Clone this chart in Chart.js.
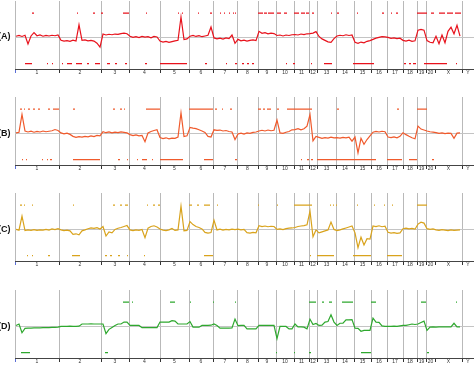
<!DOCTYPE html>
<html lang="en">
<head>
<meta charset="UTF-8">
<title>Copy number profiles</title>
<script src="https://cdn.jsdelivr.net/npm/chart.js@4.4.1/dist/chart.umd.min.js"></script>
<style>
  html, body { margin: 0; padding: 0; background: #fff; overflow: hidden; width: 474px; height: 366px; }
  .panel { position: absolute; left: 0; width: 474px; height: 96px; }
  .tag { position: absolute; left: -2px; font: bold 9px 'Liberation Sans', Arial, sans-serif; color: #111; }
</style>
</head>
<body>

<div class="panel" style="top:1px"><canvas id="cnA"></canvas></div>
<div class="panel" style="top:97px"><canvas id="cnB"></canvas></div>
<div class="panel" style="top:193px"><canvas id="cnC"></canvas></div>
<div class="panel" style="top:290px"><canvas id="cnD"></canvas></div>
<div class="tag" style="top:31px">(A)</div>
<div class="tag" style="top:128px">(B)</div>
<div class="tag" style="top:224px">(C)</div>
<div class="tag" style="top:321px">(D)</div>

<script>
// chromosome layout (genome position units along the x axis)
const chromNames = ['1','2','3','4','5','6','7','8','9','10','11','12','13','14','15','16','17','18','19','20','X','Y'];
const chromBounds = [0,44,86,114,145,174,198,222,243,261,279,294,302,321,339,356,372,388,402,411,420,447,459];

// probe positions shared by all four profiles
const probePos = [1,4,7,10,13,16,19,22,25,28,31,34,37,40,43,
  46,49,52,55,58,61,64,67,70,73,76,79,82,85,
  88,91,94,97,100,103,106,109,112,
  115,118,121,124,127,130,133,136,139,142,
  145,148,151,154,157,160,163,166,169,172,
  175,178,181,184,187,190,193,196,
  199,202,205,208,211,214,217,220,
  223,226,229,232,235,238,241,
  244,247,250,253,256,259,
  262,265,268,271,274,277,
  280,283,286,289,292,
  295,298,301,
  304,307,310,313,316,319,
  322,325,328,331,334,337,
  340,343,346,349,352,355,
  358,361,364,367,370,
  373,376,379,382,385,
  388,391,394,397,400,
  403,406,409,
  412,415,418,
  421,424,427,430,433,436,439,442,445];

// log ratio per probe
const cnA = [0.05,0.08,0.04,0.09,-0.27,0.06,0.2,0.07,0.1,0.05,0.08,0.06,0.09,0.07,0.1,
  -0.12,-0.15,-0.13,-0.16,-0.11,-0.15,0.52,-0.12,-0.1,-0.14,-0.12,-0.15,-0.24,-0.4,
  0.14,0.1,0.13,0.11,0.14,0.13,0.16,0.18,0.15,
  0.05,0.0,0.03,-0.01,0.04,0.01,0.03,-0.02,0.04,0.02,
  -0.15,-0.19,-0.16,-0.2,-0.17,-0.14,-0.12,0.84,-0.09,-0.06,
  0.05,0.08,0.04,0.07,0.03,0.06,0.09,0.43,
  -0.02,-0.06,-0.03,-0.07,-0.02,-0.05,0.1,-0.24,
  -0.08,-0.14,-0.11,-0.15,-0.12,-0.1,-0.13,
  0.25,0.17,0.2,0.15,0.18,0.16,
  0.08,0.1,0.06,0.1,0.08,0.11,
  0.12,0.1,0.14,0.12,0.15,
  0.16,0.18,0.24,
  0.04,-0.06,-0.12,-0.18,-0.2,-0.05,
  0.06,0.09,0.07,0.11,0.08,0.1,
  -0.2,-0.24,-0.19,-0.22,-0.16,-0.13,
  -0.08,-0.03,0.0,0.03,0.02,
  0.0,-0.04,-0.02,-0.05,-0.03,
  -0.12,-0.15,-0.11,-0.16,-0.14,
  0.3,0.33,0.3,
  -0.13,-0.2,-0.22,
  0.05,-0.26,0.1,-0.22,0.25,0.42,0.15,0.5,0.05];

const cnB = [0.02,0.05,0.78,0.1,0.06,0.09,0.05,0.08,0.06,0.1,0.07,0.09,0.11,0.16,0.12,
  0.02,-0.02,0.01,-0.04,-0.12,-0.16,-0.13,-0.15,-0.12,-0.14,-0.1,-0.13,-0.08,-0.1,
  0.07,0.03,0.06,0.02,0.05,0.03,0.06,0.04,0.02,
  -0.05,-0.09,-0.06,-0.1,-0.08,-0.34,0.02,0.08,0.12,0.15,
  -0.17,-0.21,-0.18,-0.22,-0.19,-0.2,-0.15,0.85,-0.13,-0.1,
  0.25,0.22,0.2,0.15,0.1,0.04,-0.12,-0.15,
  0.15,0.13,0.14,0.1,0.12,0.08,0.06,-0.25,
  -0.02,0.01,-0.03,0.02,0.0,0.04,0.06,
  0.1,0.13,0.1,0.14,0.11,0.13,
  0.55,0.02,0.0,0.05,0.08,0.15,
  0.16,0.2,0.15,0.19,0.3,
  0.78,-0.3,-0.12,
  -0.16,-0.2,-0.17,-0.19,-0.15,-0.18,
  -0.17,-0.19,-0.16,-0.18,-0.15,-0.32,
  -0.15,-0.8,-0.2,-0.45,-0.25,-0.1,
  0.05,0.08,0.06,0.09,0.07,
  -0.15,-0.17,-0.14,-0.18,-0.12,
  0.03,-0.05,-0.12,-0.18,-0.22,
  0.3,0.18,0.14,
  0.1,0.07,0.05,
  0.03,0.0,0.02,-0.01,0.01,0.0,-0.2,0.01,0.02];

const cnC = [0.0,-0.03,0.55,-0.05,-0.02,-0.04,-0.01,-0.04,-0.02,-0.03,0.0,-0.03,0.02,-0.01,0.03,
  -0.02,-0.05,-0.03,-0.06,-0.2,-0.18,-0.22,-0.06,-0.02,0.03,0.06,0.04,0.07,0.02,
  0.12,-0.27,-0.1,-0.14,0.0,0.05,0.08,0.12,0.16,
  -0.02,-0.05,-0.02,-0.04,0.0,-0.34,0.05,0.12,0.15,0.1,
  0.02,-0.03,-0.05,-0.02,0.04,-0.04,-0.02,0.96,-0.06,-0.04,
  0.32,0.2,0.12,0.08,0.02,-0.12,-0.15,-0.13,
  0.38,-0.02,0.01,-0.03,0.0,-0.02,0.01,-0.01,
  0.01,-0.02,0.0,-0.13,-0.15,-0.12,-0.14,
  0.15,0.12,0.14,0.11,0.13,0.12,
  0.0,0.02,-0.01,0.03,0.05,0.06,
  0.08,0.12,0.14,0.16,0.19,
  0.75,-0.3,-0.02,
  -0.14,-0.1,-0.06,-0.02,0.3,0.0,
  -0.05,-0.02,0.02,0.06,0.1,0.14,
  -0.14,-0.75,-0.32,-0.64,-0.38,-0.4,
  0.14,0.12,0.15,0.11,0.13,
  -0.12,-0.15,-0.13,-0.16,-0.14,
  0.03,0.05,0.02,0.04,0.01,
  0.22,0.3,0.26,
  0.03,0.0,0.02,
  -0.02,-0.04,-0.01,-0.03,-0.05,-0.02,-0.04,-0.03,-0.02];

const cnD = [0.04,0.1,-0.26,-0.08,-0.07,-0.07,-0.06,-0.06,-0.06,-0.05,-0.05,-0.05,-0.04,-0.04,-0.03,
  0.0,0.0,0.0,0.01,0.0,0.0,0.01,0.1,0.1,0.1,0.11,0.1,0.1,0.1,
  0.1,-0.3,-0.12,-0.04,0.04,0.1,0.1,0.18,0.18,
  0.04,0.04,0.04,0.04,-0.05,-0.05,-0.05,-0.05,-0.05,-0.05,
  0.18,0.18,0.18,0.18,0.24,0.22,0.1,0.1,0.1,0.1,
  0.2,-0.03,-0.03,-0.03,0.04,0.04,0.04,0.05,
  0.1,0.04,-0.07,-0.07,-0.07,-0.07,-0.06,0.3,
  0.03,0.04,0.04,-0.1,-0.1,-0.1,-0.1,
  0.04,0.04,0.04,0.04,0.04,0.04,
  -0.5,0.0,0.0,0.0,-0.1,-0.1,
  0.1,-0.02,-0.02,-0.03,-0.1,
  0.3,0.08,0.12,
  0.04,0.05,0.18,0.2,0.48,0.18,
  0.04,0.13,0.13,0.27,0.27,0.28,
  -0.07,-0.08,-0.2,-0.16,-0.16,-0.16,
  0.34,0.18,0.17,0.02,0.0,
  0.0,0.0,0.01,0.0,0.02,
  0.04,0.04,0.07,0.1,0.08,
  0.1,0.16,0.22,
  -0.16,-0.03,-0.02,
  -0.03,-0.02,-0.02,-0.02,-0.02,-0.02,0.13,-0.02,-0.02];

// called gain / loss regions [start, end]
const gainsA = [[17,19],[62,63],[78,80],[86,88],[108,114],[131,132],[163,164],[167,168],[183,184],[195,197],[205,206],[209,210],[214,215],[218,219],
  [220,221],[243,248],[249,252],[253,259],[262,266],[269,272],[279,284],[286,290],[291,294],[297,299],[316,317],[322,324],[342,343],
  [367,369],[376,377],[381,383],[402,412],[416,419],[424,430],[432,438],[440,446]];
const lossesA = [[10,17],[32,33],[37,38],[47,48],[52,57],[61,67],[72,74],[80,85],[92,95],[100,102],[110,112],[130,132],[145,172],
  [190,192],[211,212],[220,222],[227,229],[232,234],[237,239],[271,272],[278,280],[296,297],[309,317],[338,359],
  [389,391],[394,396],[398,401],[409,432],[441,442]];
const gainsB = [[5,7],[9,10],[13,15],[18,20],[23,25],[33,35],[38,44],[58,60],[98,100],[105,107],[109,110],[131,145],[174,198],
  [200,202],[207,208],[215,217],[243,246],[248,250],[252,256],[262,264],[272,297],[322,324],[382,384],[402,412]];
const lossesB = [[7,8],[11,12],[27,28],[32,33],[35,37],[58,85],[103,105],[112,113],[122,123],[127,132],[137,138],[145,168],
  [189,198],[220,222],[286,287],[292,294],[296,298],[302,361],[372,387],[394,402],[417,419]];
const gainsC = [[5,7],[9,10],[17,18],[58,59],[98,100],[105,107],[110,113],[132,133],[138,140],[143,145],[174,177],[182,184],
  [189,195],[202,203],[243,244],[262,263],[279,297],[315,316],[318,319],[321,322],[342,343],[359,360],[369,370],[377,378],[402,412]];
const lossesC = [[12,13],[17,18],[33,35],[57,65],[90,92],[95,97],[103,105],[112,113],[129,130],[189,198],[295,296],
  [302,319],[338,356],[372,387]];
const gainsD = [[108,114],[117,118],[155,160],[175,176],[198,199],[220,221],[294,301],[307,309],[314,317],[327,338],
  [356,361],[406,411],[441,442]];
const lossesD = [[6,15],[90,93],[261,262],[279,280],[294,296],[346,356],[412,414]];

const GAIN_Y = 1.0;
const LOSS_Y = -1.08;
const GRID = '#b9b9b9';

const centers = chromNames.map((n, i) => (chromBounds[i] + chromBounds[i + 1]) / 2);
const tickVals = chromBounds.concat(centers).sort((a, b) => a - b);
const isBound = v => chromBounds.includes(v);

function track(segs, level) {
  const pts = [];
  segs.forEach(([s, e]) => { pts.push({x: s, y: level}, {x: e, y: level}, {x: e, y: null}); });
  return pts;
}

function drawPanel(id, values, gains, losses, color) {
  const line = probePos.map((x, i) => ({x: x, y: values[i]}));
  new Chart(document.getElementById(id), {
    type: 'line',
    data: {
      datasets: [
        { data: line, borderColor: color, borderWidth: 1.2, pointRadius: 0, tension: 0 },
        { data: track(gains, GAIN_Y), borderColor: color, borderWidth: 1.2, pointRadius: 0, spanGaps: false },
        { data: track(losses, LOSS_Y), borderColor: color, borderWidth: 1.2, pointRadius: 0, spanGaps: false }
      ]
    },
    options: {
      responsive: true,
      maintainAspectRatio: false,
      animation: false,
      layout: { padding: { left: 15, right: 0, top: 0, bottom: 0 } },
      plugins: { legend: { display: false }, tooltip: { enabled: false } },
      scales: {
        x: {
          type: 'linear', min: 0, max: 459,
          afterBuildTicks: s => { s.ticks = tickVals.map(v => ({value: v})); },
          afterFit: s => { s.height = 28; },
          border: { color: '#444', width: 1 },
          grid: {
            lineWidth: 1,
            tickLength: 4,
            color: ctx => (ctx.tick && isBound(ctx.tick.value) && ctx.tick.value !== 420) ? GRID : 'rgba(0,0,0,0)',
            tickColor: ctx => (ctx.tick && isBound(ctx.tick.value)) ? (ctx.tick.value === 0 ? '#5b6fd6' : '#333') : 'rgba(0,0,0,0)'
          },
          ticks: {
            autoSkip: false, maxRotation: 0, padding: -3,
            color: '#333',
            font: { size: 5, family: "'Liberation Sans', Arial, sans-serif" },
            callback: (v) => { const i = centers.indexOf(v); return i >= 0 ? chromNames[i] : ''; }
          }
        },
        y: {
          min: -1.3, max: 1.5,
          afterBuildTicks: s => { s.ticks = [{value: 0}]; },
          afterFit: s => { s.width = 0; },
          ticks: { display: false },
          grid: { color: '#c4c4c4', drawTicks: false },
          border: { display: false }
        }
      }
    }
  });
}

drawPanel('cnA', cnA, gainsA, lossesA, '#e8121c');
drawPanel('cnB', cnB, gainsB, lossesB, '#f05a2c');
drawPanel('cnC', cnC, gainsC, lossesC, '#d9a31c');
drawPanel('cnD', cnD, gainsD, lossesD, '#2ea82e');
</script>
</body>
</html>
